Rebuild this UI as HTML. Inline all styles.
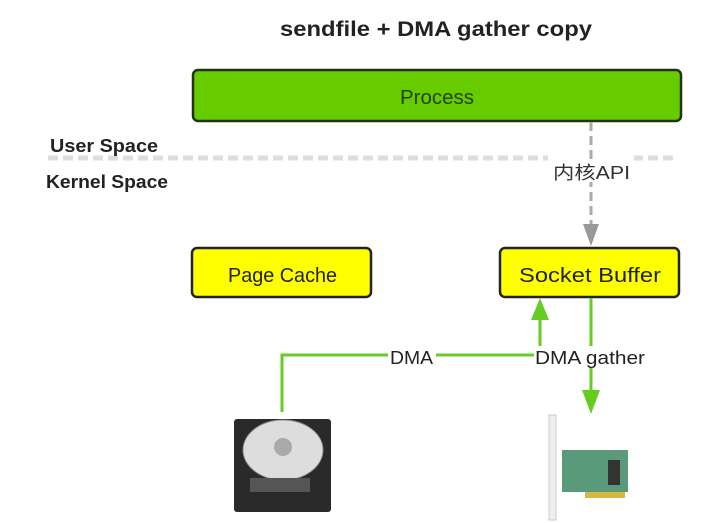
<!DOCTYPE html>
<html><head><meta charset="utf-8"><style>
body{margin:0;width:720px;height:523px;background:#fff;overflow:hidden;font-family:"Liberation Sans","Noto Sans CJK SC",sans-serif}
svg{display:block}
</style></head><body>
<svg width="720" height="523" viewBox="0 0 720 523" xmlns="http://www.w3.org/2000/svg" font-family="Liberation Sans, Noto Sans CJK SC, sans-serif">
<text x="280" y="36" textLength="312" lengthAdjust="spacingAndGlyphs" font-size="21" font-weight="bold" fill="#222">sendfile + DMA gather copy</text>
<rect x="193" y="70" width="488" height="51" rx="5" fill="#66cc00" stroke="#223311" stroke-width="2.5"/>
<text x="400" y="104" textLength="74" lengthAdjust="spacingAndGlyphs" font-size="20" fill="#224400">Process</text>
<line x1="48" y1="158" x2="678" y2="158" stroke="#ddd" stroke-width="5" stroke-dasharray="10,5"/>
<rect x="548" y="150" width="86" height="16" fill="#fff"/>
<text x="50" y="152" textLength="108" lengthAdjust="spacingAndGlyphs" font-size="18" font-weight="bold" fill="#222">User Space</text>
<text x="46" y="188" textLength="122" lengthAdjust="spacingAndGlyphs" font-size="18" font-weight="bold" fill="#222">Kernel Space</text>
<line x1="591" y1="122" x2="591" y2="226" stroke="#aaa" stroke-width="3" stroke-dasharray="9,5"/>
<polygon points="583,224 599,224 591,246" fill="#999"/>
<rect x="550" y="160" width="84" height="22" fill="#fff"/>
<text x="553" y="179" textLength="77" lengthAdjust="spacingAndGlyphs" font-size="18" fill="#333">内核API</text>
<rect x="192" y="248" width="179" height="49" rx="5" fill="#ffff00" stroke="#222" stroke-width="2.5"/>
<text x="228" y="282" textLength="109" lengthAdjust="spacingAndGlyphs" font-size="20" fill="#222">Page Cache</text>
<rect x="500" y="248" width="179" height="49" rx="5" fill="#ffff00" stroke="#222" stroke-width="2.5"/>
<text x="519" y="282" textLength="142" lengthAdjust="spacingAndGlyphs" font-size="20" fill="#222">Socket Buffer</text>
<polyline points="282,412 282,355 540,355 540,318" fill="none" stroke="#66cc22" stroke-width="3"/>
<polygon points="531,320 549,320 540,298" fill="#66cc22"/>
<line x1="591" y1="298" x2="591" y2="392" stroke="#66cc22" stroke-width="3"/>
<polygon points="582,390 600,390 591,414" fill="#66cc22"/>
<rect x="388" y="346" width="48" height="20" fill="#fff"/>
<text x="390" y="364" textLength="43" lengthAdjust="spacingAndGlyphs" font-size="18" fill="#222">DMA</text>
<rect x="534" y="346" width="114" height="22" fill="#fff"/>
<text x="535" y="364" textLength="110" lengthAdjust="spacingAndGlyphs" font-size="18" fill="#222">DMA gather</text>
<line x1="591" y1="368" x2="591" y2="392" stroke="#66cc22" stroke-width="3"/>
<!-- disk -->
<rect x="234" y="419" width="97" height="93" rx="3" fill="#2a2a2a"/>
<ellipse cx="283" cy="450" rx="40" ry="30" fill="#ddd" stroke="#888"/>
<circle cx="283" cy="447" r="9" fill="#aaa"/>
<rect x="250" y="478" width="60" height="14" fill="#555"/>
<!-- nic -->
<rect x="549" y="415" width="7" height="105" fill="#eee" stroke="#ccc"/>
<rect x="562" y="450" width="66" height="42" fill="#5a9a7a"/>
<rect x="585" y="492" width="40" height="6" fill="#d4b840"/>
<rect x="608" y="460" width="12" height="25" fill="#333"/>
</svg>
</body></html>
